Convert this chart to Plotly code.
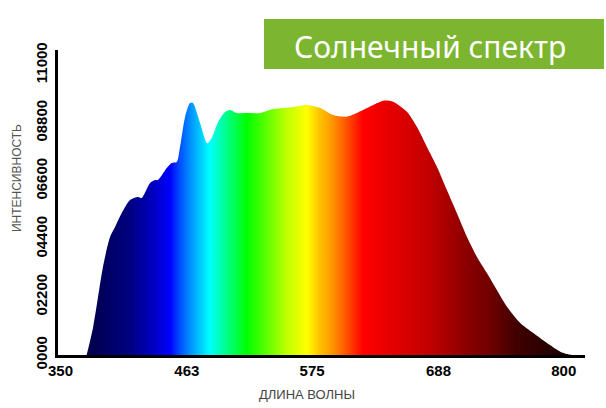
import plotly.graph_objects as go

# ---- data ----
wavelength = [373.4, 379.3, 388.0, 394.3, 398.8, 404.8, 412.2, 419.3, 422.6, 430.1,
              434.5, 437.2, 445.0, 449.5, 454.0, 456.9, 461.4, 465.8, 468.5, 474.8,
              481.2, 485.3, 490.9, 497.2, 501.6, 507.6, 516.6, 528.5, 540.2, 558.0,
              570.3, 582.2, 593.8, 606.0, 620.6, 629.6, 638.5, 647.5, 659.7, 668.7,
              677.6, 686.6, 695.5, 704.4, 713.4, 722.3, 731.3, 740.2, 749.2, 761.1,
              772.7, 785.0, 796.9, 802.9, 807.6]
intensity = [0, 1073, 3338, 4476, 4855, 5386, 5879, 5993, 5955, 6524,
             6638, 6638, 7093, 7283, 7320, 7889, 9027, 9558, 9558, 8800,
             8030, 8231, 8838, 9217, 9293, 9179, 9179, 9179, 9331, 9407,
             9483, 9369, 9103, 9039, 9293, 9483, 9646, 9608, 9228, 8659,
             7901, 7142, 6258, 5386, 4487, 3729, 3110, 2465, 1832, 1214,
             834, 455, 125, 38, 0]

x_tickvals = [350, 463, 575, 688, 800]
x_ticktext = ["350", "463", "575", "688", "800"]
y_tickvals = [0, 2200, 4400, 6600, 8800, 11000]
y_ticktext = ["0000", "02200", "04400", "06600", "08800", "11000"]

title_text = "Солнечный спектр"
x_title = "ДЛИНА ВОЛНЫ"
y_title = "ИНТЕНСИВНОСТЬ"

# ---- style: spectrum colour stops (nm, colour) ----
g_start, g_stop = 373.4, 807.6
stops = [(373.4, "#0a0a45"), (379, "#000050"), (412, "#000080"), (433, "#0000c0"),
         (448, "#0000ff"), (457, "#0050ff"), (468.5, "#00a0ff"), (483.7, "#00ffff"),
         (495.4, "#00ffa0"), (516.8, "#00ff00"), (534.7, "#60ff00"), (552.6, "#c0ff00"),
         (570.5, "#ffff00"), (582, "#ffc000"), (591, "#ffa000"), (606.3, "#ff5000"),
         (620.6, "#ff0000"), (651, "#e00000"), (680.5, "#c00000"), (710, "#900000"),
         (734, "#700000"), (758, "#400000"), (776, "#300000"), (807.6, "#140000")]
colorscale = [[(w - g_start) / (g_stop - g_start), c] for w, c in stops]

fig = go.Figure()
fig.add_trace(go.Scatter(
    x=wavelength, y=intensity, mode="lines",
    line=dict(width=0, shape="spline", smoothing=0.7),
    fill="tozeroy",
    fillgradient=dict(type="horizontal", colorscale=colorscale,
                      start=g_start, stop=g_stop),
    hoverinfo="skip", showlegend=False,
))

tickfont = dict(family="Liberation Sans", size=15, color="black", weight=700)

fig.update_layout(
    width=606, height=408,
    margin=dict(l=58, r=21, t=50, b=53),
    paper_bgcolor="white", plot_bgcolor="white",
    xaxis=dict(range=[347.8, 819], tickvals=x_tickvals, ticktext=x_ticktext,
               showgrid=False, zeroline=False, showline=True, linewidth=3,
               linecolor="black", ticks="", tickfont=tickfont),
    yaxis=dict(range=[0, 11569], tickvals=y_tickvals, ticktext=y_ticktext,
               tickangle=-90, showgrid=False, zeroline=False, showline=True,
               linewidth=3, linecolor="black", ticks="", tickfont=tickfont,
               ticklabelstandoff=2),
    shapes=[dict(type="rect", xref="paper", yref="paper",
                 x0=0.3909, x1=1.036, y0=0.9377, y1=1.1016,
                 fillcolor="#7cb52f", line=dict(width=0), layer="above")],
    annotations=[
        dict(text=title_text, xref="paper", yref="paper", x=0.706, y=1.013,
             showarrow=False, xanchor="center", yanchor="middle",
             font=dict(family="Noto Sans", size=30, color="white")),
        dict(text=x_title, xref="paper", yref="paper", x=0.4725, y=-0.128,
             showarrow=False, xanchor="center", yanchor="middle",
             font=dict(family="Liberation Sans", size=13, color="#444444")),
        dict(text=y_title, xref="paper", yref="paper", x=-0.0778, y=0.58,
             showarrow=False, xanchor="center", yanchor="middle", textangle=-90,
             font=dict(family="Liberation Sans", size=12, color="#555555")),
    ],
)

fig.write_html(
    "out.html",
    config={"displayModeBar": False},
    post_script="document.body.style.margin='0px';document.body.style.overflow='hidden';",
)
